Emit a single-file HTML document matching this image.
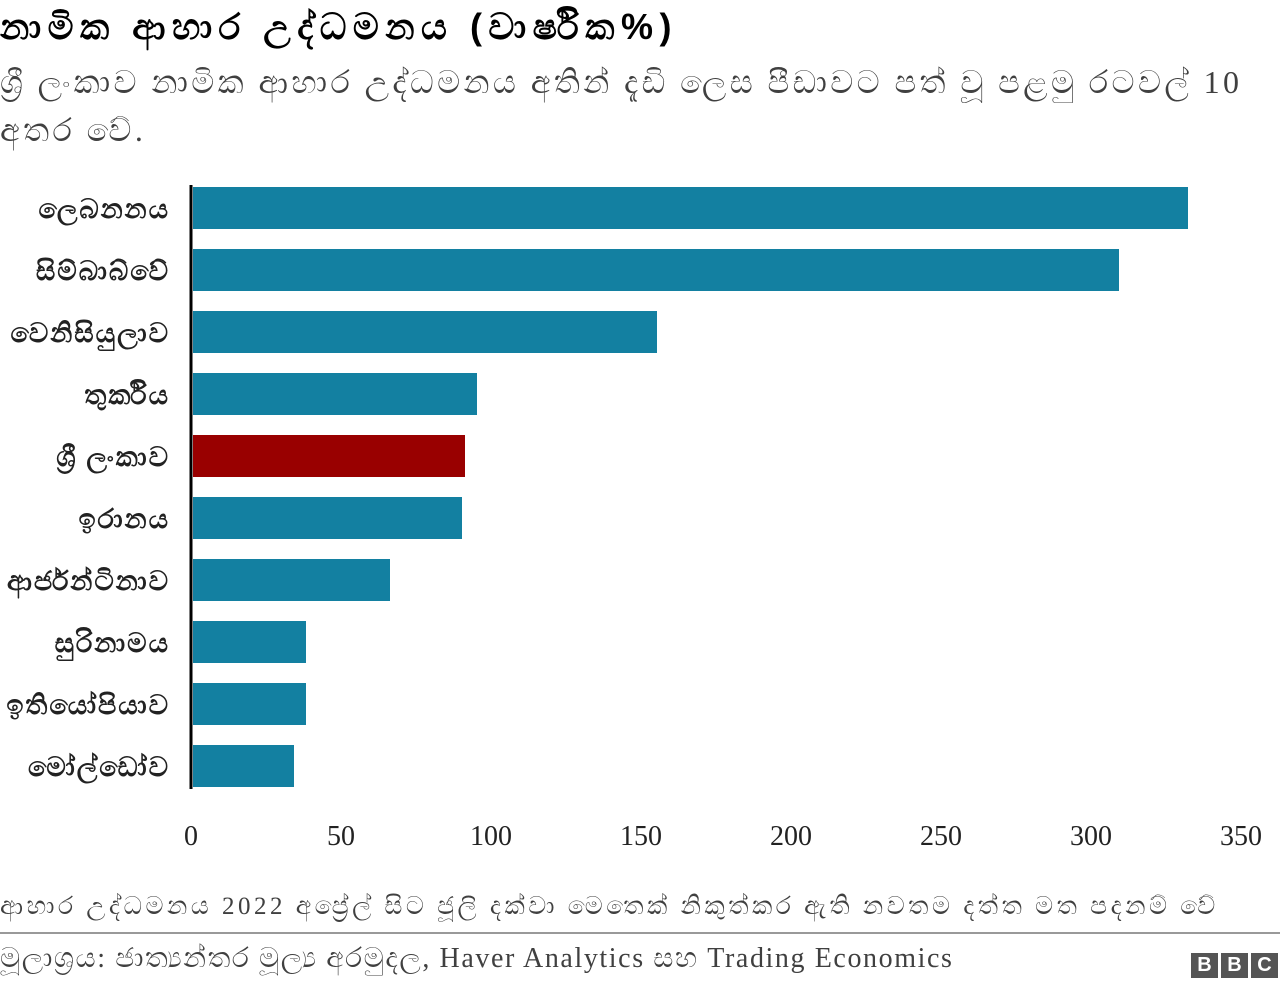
<!DOCTYPE html>
<html><head><meta charset="utf-8">
<style>
body{margin:0;width:1280px;height:988px;background:#fff;font-family:"Liberation Serif","DejaVu Sans",serif;position:relative;overflow:hidden}
#title{position:absolute;left:0;top:6px;font-size:36px;letter-spacing:6.5px;font-weight:bold;color:#000;font-family:"Liberation Sans","DejaVu Sans",sans-serif;white-space:nowrap}
#sub{position:absolute;left:0;top:58px;width:1275px;font-size:32px;letter-spacing:3.4px;line-height:48px;color:#404040;white-space:nowrap}
#note{position:absolute;left:0;top:893px;font-size:25px;letter-spacing:3.5px;color:#404040;white-space:nowrap}
#rule{position:absolute;left:0;top:932px;width:1280px;height:2px;background:#999}
#src{position:absolute;left:0;top:943px;font-size:28px;letter-spacing:1.6px;color:#404040;white-space:nowrap}
#bbc{position:absolute;right:2px;top:953px;display:flex;gap:3px}
#bbc div{width:27px;height:25px;background:#555;color:#fff;font:bold 20px "Liberation Sans",sans-serif;text-align:center;line-height:25px}
</style></head><body>
<div id="title">නාමික ආහාර උද්ධමනය (වාර්ෂික%)</div>
<div id="sub">ශ්‍රී ලංකාව නාමික ආහාර උද්ධමනය අතින් දැඩි ලෙස පීඩාවට පත් වූ පළමු රටවල් 10<br>අතර වේ.</div>
<svg id="chart" width="1280" height="988" style="position:absolute;left:0;top:0"></svg>
<div id="note">ආහාර උද්ධමනය 2022 අප්‍රේල් සිට ජූලි දක්වා මෙතෙක් නිකුත්කර ඇති නවතම දත්ත මත පදනම් වේ</div>
<div id="rule"></div>
<div id="src">මූලාශ්‍රය: ජාත්‍යන්තර මූල්‍ය අරමුදල, Haver Analytics සහ Trading Economics</div>
<div id="bbc"><div>B</div><div>B</div><div>C</div></div>
<script>
const categories=["ලෙබනනය","සිම්බාබ්වේ","වෙනිසියුලාව","තුර්කිය","ශ්‍රී ලංකාව","ඉරානය","ආර්ජන්ටිනාව","සුරිනාමය","ඉතියෝපියාව","මෝල්ඩෝව"];
const values=[332,309,155,95,91,90,66,38,38,34];
const highlight=["ශ්‍රී ලංකාව"];
const ticks=[0,50,100,150,200,250,300,350];
const NS="http://www.w3.org/2000/svg";
const svg=document.getElementById('chart');
const x=v=>191+v*3;
const y=i=>187+i*62;
function mk(t,a){const e=document.createElementNS(NS,t);for(const k in a)e.setAttribute(k,a[k]);svg.appendChild(e);return e;}
categories.forEach((c,i)=>{
 const r=mk('rect',{x:x(0)+2,y:y(i),width:x(values[i])-x(0)-1,height:42,fill:highlight.includes(c)?'#990000':'#1380a1'});
 
 
 const t=mk('text',{x:170,y:y(i)+31,'text-anchor':'end','font-size':27,'letter-spacing':2,'font-weight':'bold',fill:'#222'});
 t.textContent=c;
 
 
});
ticks.forEach(v=>{
 const t=mk('text',{x:x(v),y:845,'text-anchor':'middle','font-size':28,fill:'#222'});
 t.textContent=v;
 
 
});
const ax=mk('line',{x1:191,x2:191,y1:185,y2:789,stroke:'#000','stroke-width':3});


</script>
</body></html>
